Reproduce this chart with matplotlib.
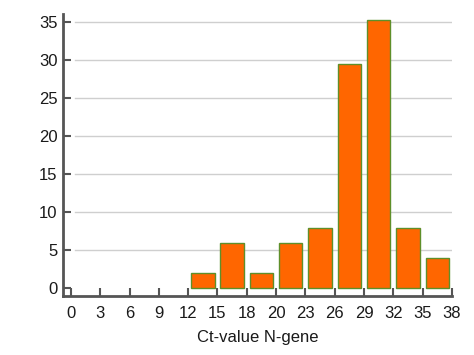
import matplotlib
matplotlib.use("Agg")
import matplotlib.pyplot as plt

tick_labels = ["0", "3", "6", "9", "12", "15", "18", "20", "23", "26", "29", "32", "35", "38"]
bin_index = [4, 5, 6, 7, 8, 9, 10, 11, 12]
values = [1.96, 5.88, 1.96, 5.88, 7.84, 29.41, 35.29, 7.84, 3.92]

plt.rcParams['font.family'] = ['Liberation Sans', 'DejaVu Sans']
fig = plt.figure(figsize=(4.74, 3.55), dpi=100)
ax = fig.add_axes([0.1329, 0.1662, 0.8207, 0.7944])

centers = [i + 0.5 for i in bin_index]
ax.bar(centers, values, width=0.8, color="#ff6600", edgecolor="#5f8f2a", linewidth=1.0, zorder=3)

ax.set_xlim(-0.27, 13)
ax.set_ylim(-1.05, 36.05)
ax.set_xticks(range(len(tick_labels)))
ax.set_xticklabels(tick_labels)
ax.set_yticks(range(0, 36, 5))

for y in range(5, 36, 5):
    ax.axhline(y, xmin=0.03, color="#cfcfcf", linewidth=1.0, zorder=1)

for side in ["top", "right"]:
    ax.spines[side].set_visible(False)
for side in ["left", "bottom"]:
    ax.spines[side].set_color("#555555")
    ax.spines[side].set_linewidth(2.0)

ax.tick_params(axis="both", direction="in", length=6, width=1.5, color="#555555",
               labelsize=12, labelcolor="#1a1a1a")
ax.tick_params(axis="x", pad=7)
ax.tick_params(axis="y", pad=4)
ax.set_xlabel("Ct-value N-gene", fontsize=12, color="#1a1a1a", labelpad=7)

fig.savefig("out.png", dpi=100)
